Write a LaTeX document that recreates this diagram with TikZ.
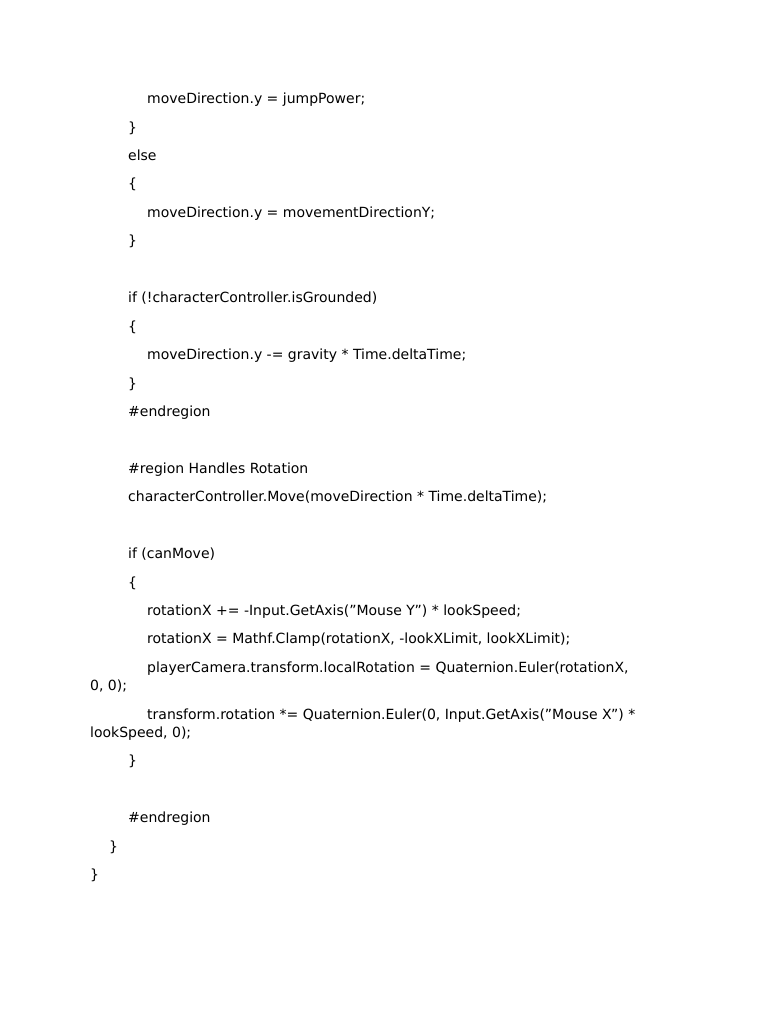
\documentclass[tikz,border=0pt]{standalone}
\usepackage{fontspec}
\setmainfont{DejaVu Sans}
\begin{document}
\begin{tikzpicture}[x=1pt,y=1pt,code/.style={anchor=mid west,inner sep=0pt,font=\fontsize{14}{16}\selectfont}]
\useasboundingbox[fill=white] (0,0) rectangle (768,-1024);
\node[code] (a1) at (147,-101) {moveDirection.y = jumpPower;};
\node[code] (a2) at (128,-130) {\}};
\node[code] (a3) at (128,-158) {else};
\node[code] (a4) at (128,-186) {\{};
\node[code] (a5) at (147,-215) {moveDirection.y = movementDirectionY;};
\node[code] (a6) at (128,-243) {\}};
\node[code] (a7) at (128,-300) {if (!characterController.isGrounded)};
\node[code] (a8) at (128,-329) {\{};
\node[code] (a9) at (147,-357) {moveDirection.y -= gravity * Time.deltaTime;};
\node[code] (a10) at (128,-386) {\}};
\node[code] (a11) at (128,-414) {\#endregion};
\node[code] (a12) at (128,-471) {\#region Handles Rotation};
\node[code] (a13) at (128,-499) {characterController.Move(moveDirection * Time.deltaTime);};
\node[code] (a14) at (128,-556) {if (canMove)};
\node[code] (a15) at (128,-585) {\{};
\node[code] (a16) at (147,-613) {rotationX += -Input.GetAxis("Mouse Y") * lookSpeed;};
\node[code] (a17) at (147,-641) {rotationX = Mathf.Clamp(rotationX, -lookXLimit, lookXLimit);};
\node[code] (a18) at (147,-670) {playerCamera.transform.localRotation = Quaternion.Euler(rotationX,};
\node[code] (a19) at (90,-688) {0, 0);};
\node[code] (a20) at (147,-717) {transform.rotation *= Quaternion.Euler(0, Input.GetAxis("Mouse X") *};
\node[code] (a21) at (90,-735) {lookSpeed, 0);};
\node[code] (a22) at (128,-763) {\}};
\node[code] (a23) at (128,-820) {\#endregion};
\node[code] (a24) at (109,-849) {\}};
\node[code] (a25) at (90,-877) {\}};
\end{tikzpicture}
\end{document}
